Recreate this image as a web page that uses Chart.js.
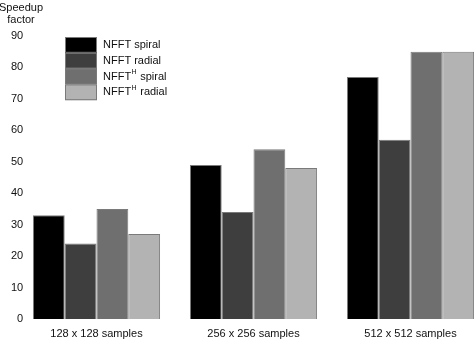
<!DOCTYPE html>
<html>
<head>
<meta charset="utf-8">
<script src="https://cdn.jsdelivr.net/npm/chart.js@4/dist/chart.umd.min.js"></script>
<style>
html,body{margin:0;padding:0;overflow:hidden;background:#fff;width:474px;height:340px;}
#wrap{position:absolute;left:0;top:0;width:490px;height:340px;}
</style>
</head>
<body>
<div id="wrap"><canvas id="c"></canvas></div>
<script>
const categories = ['128 x 128 samples', '256 x 256 samples', '512 x 512 samples'];
const nfftSpiral  = [33, 49, 77];
const nfftRadial  = [24, 34, 57];
const nfftHSpiral = [35, 54, 85];
const nfftHRadial = [27, 48, 85];
const seriesNames = ['NFFT spiral', 'NFFT radial', 'NFFT^H spiral', 'NFFT^H radial'];
const yTicks = [0, 10, 20, 30, 40, 50, 60, 70, 80, 90];
const yTitle = ['Speedup', 'factor'];

const colors = ['#000000', '#3e3e3e', '#6f6f6f', '#b3b3b3'];
const FONT = 'Liberation Sans, Arial, sans-serif';

const seriesValues = [nfftSpiral, nfftRadial, nfftHSpiral, nfftHRadial];

const legendPlugin = {
  id: 'customLegend',
  afterDraw(chart) {
    const ctx = chart.ctx;
    ctx.save();
    const bx = 65, by = 37, bw = 32, bh = 15.8;
    chart.data.datasets.forEach((ds, i) => {
      const y = by + i * bh;
      ctx.fillStyle = ds.backgroundColor;
      ctx.fillRect(bx, y, bw, bh);
      ctx.strokeStyle = '#7a7a7a';
      ctx.lineWidth = 1;
      ctx.strokeRect(bx + 0.5, y + 0.5, bw - 1, bh - 1);
      const name = ds.label;
      ctx.fillStyle = '#111';
      ctx.textBaseline = 'middle';
      ctx.textAlign = 'left';
      let x = 103;
      const cy = y + bh / 2;
      const parts = name.split('^');
      ctx.font = '11px ' + FONT;
      ctx.fillText(parts[0], x, cy);
      x += ctx.measureText(parts[0]).width;
      if (parts.length > 1) {
        const sup = parts[1].charAt(0);
        const rest = parts[1].slice(1);
        ctx.font = '7px ' + FONT;
        ctx.fillText(sup, x + 0.5, cy - 4);
        x += ctx.measureText(sup).width + 1;
        ctx.font = '11px ' + FONT;
        ctx.fillText(rest, x, cy);
      }
    });
    ctx.font = '11px ' + FONT;
    ctx.fillStyle = '#111';
    ctx.textAlign = 'center';
    ctx.textBaseline = 'middle';
    yTitle.forEach((t, i) => ctx.fillText(t, 21, 8 + i * 12));
    ctx.restore();
  }
};

new Chart(document.getElementById('c'), {
  type: 'bar',
  data: {
    labels: categories,
    datasets: seriesValues.map((vals, i) => ({
      label: seriesNames[i],
      data: vals,
      backgroundColor: colors[i],
      borderColor: '#7a7a7a',
      borderWidth: 1,
      categoryPercentage: 0.81,
      barPercentage: 1.0
    }))
  },
  options: {
    responsive: true,
    maintainAspectRatio: false,
    animation: false,
    layout: { padding: { top: 36, right: 1, bottom: 0, left: 0 } },
    plugins: {
      legend: { display: false },
      tooltip: { enabled: false },
      title: { display: false }
    },
    scales: {
      x: {
        afterFit(scale) { scale.height = 21; },
        grid: { display: false, drawTicks: false },
        border: { display: false },
        ticks: { color: '#111', font: { family: FONT, size: 11 }, padding: 8, maxRotation: 0 }
      },
      y: {
        min: 0, max: 90,
        afterBuildTicks(scale) { scale.ticks = yTicks.map(v => ({ value: v })); },
        afterFit(scale) { scale.width = 18; },
        grid: { display: false, drawTicks: false },
        border: { display: false },
        ticks: { color: '#111', font: { family: FONT, size: 11 }, mirror: true, crossAlign: 'far', padding: -7 }
      }
    }
  },
  plugins: [legendPlugin]
});
</script>
</body>
</html>
